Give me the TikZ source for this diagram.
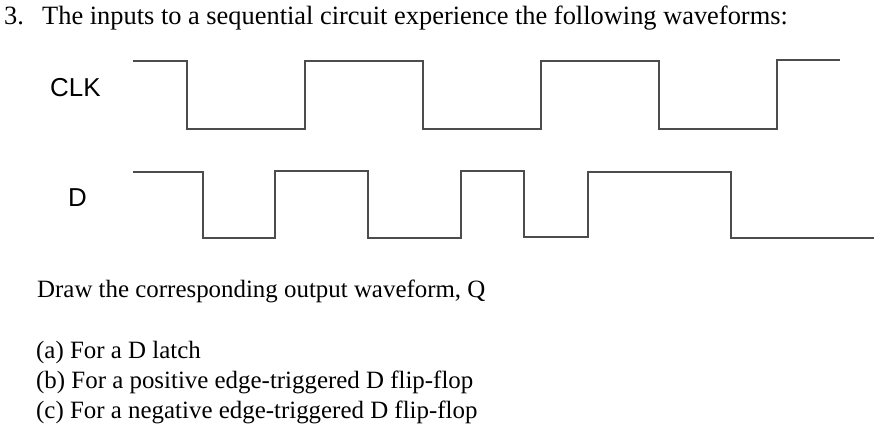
\documentclass[tikz,border=0pt]{standalone}
\usepackage{fontspec}
\setmainfont{Liberation Serif}
\newfontfamily\labelfont{Liberation Sans}
\usetikzlibrary{positioning}
\tikzset{
	x=1bp, y=-1bp,
	wave/.style = {
			draw            = black!70,
			line width      = 1.6bp,
			line join       = miter,
		},
	question/.style = {
			anchor = base west,
			inner sep = 0pt,
			font = \fontsize{25}{25}\selectfont,
		},
	heading/.style = {
			question,
			font = \fontsize{26.5}{26.5}\selectfont,
		},
	signal/.style = {
			anchor = base west,
			inner sep = 0pt,
			font = \labelfont\fontsize{26}{26}\selectfont,
		}
}
\begin{document}
\begin{tikzpicture}
	\useasboundingbox (0,0) rectangle (879,430);
	% heading
	\node[heading] at (4,24) (num) {3.};
	\node[heading] at (42,24) (title) {The inputs to a sequential circuit experience the following waveforms:};
	% signal names
	\node[signal] at (50,96) (clk) {CLK};
	\node[signal] at (68,206) (d) {D};
	% clock
	\draw[wave] (133,61) -- (187,61) -- (187,129) -- (305,129) -- (305,61) -- (423,61) -- (423,129)
	      -- (541,129) -- (541,61) -- (659,61) -- (659,129) -- (777,129) -- (777,60) -- (840,60);
	% data
	\draw[wave] (133,172) -- (203,172) -- (203,238) -- (275,238) -- (275,171) -- (368,171) -- (368,238)
	      -- (461,238) -- (461,171) -- (524,171) -- (524,237) -- (588,237) -- (588,172) -- (731,172)
	      -- (731,238) -- (874,238);
	% questions
	\node[question] at (37,297) (ask) {Draw the corresponding output waveform, Q};
	\node[question] at (36,358) (qa) {(a) For a D latch};
	\node[question] at (36,388) (qb) {(b) For a positive edge-triggered D flip-flop};
	\node[question] at (36,418) (qc) {(c) For a negative edge-triggered D flip-flop};
\end{tikzpicture}
\end{document}
